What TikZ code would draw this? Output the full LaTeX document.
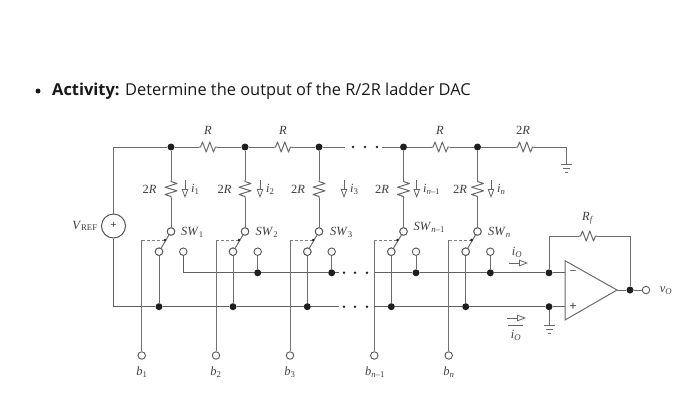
\documentclass[tikz,border=0pt]{standalone}
\usepackage{fontspec}
\setmainfont{Liberation Serif}
\newfontfamily\headfont{Open Sans}
\usetikzlibrary{arrows.meta,calc}
\newcommand{\subbed}[2]{\textit{#1}\textsubscript{\textit{#2}}}
\tikzset{
  wire/.style={draw=black!58,line width=1pt},
  bus/.style={draw=black!62,line width=1.25pt},
  ctl/.style={draw=black!55,line width=1pt},
  dash line/.style={draw=black!50,line width=1pt,dash pattern=on 3pt off 2pt},
  dotn/.style={circle,fill=black!88,minimum size=7pt,inner sep=0pt},
  opn/.style={circle,draw=black!65,fill=white,line width=0.9pt,minimum size=7.5pt,inner sep=0pt},
  small dot/.style={circle,fill=black!85,minimum size=2.8pt,inner sep=0pt},
  lbl/.style={inner sep=0pt,font=\fontsize{12.5}{14}\selectfont,text=black!75},
  cur/.style={draw=black!60,line width=0.8pt,-{Triangle[open,fill=white,length=9pt,width=6.5pt]}},
  hres/.pic={\draw[wire,line join=round] (-9,0)--(-7.5,0)--(-5.5,-5)--(-1.8,5)--(1.8,-5)--(5.5,5)--(7.5,0)--(9,0);},
  vres/.pic={\draw[wire,line join=round] (0,-9)--(0,-7.5)--(6,-5.5)--(-6,-1.8)--(6,1.8)--(-6,5.5)--(0,7.5)--(0,9);},
  gnd/.pic={\draw[wire] (-5.5,0)--(5.5,0) (-3.5,4)--(3.5,4) (-1.5,8)--(1.5,8);}
}
\begin{document}
\begin{tikzpicture}[x=1pt,y=-1pt]
\useasboundingbox (0,0) rectangle (700,407);
\fill[white] (0,0) rectangle (700,407);
% heading
\node[anchor=west,inner sep=0pt,font=\headfont\fontsize{16.4}{18}\selectfont,text=black!90] (head) at (52,91.5) {\textbf{Activity:} Determine the output of the R/2R ladder DAC};
\node[circle,fill=black!90,minimum size=5pt,inner sep=0pt] (bull) at (38,91) {};
% rail junctions
\foreach \n/\x in {t1/171,t2/245,t3/319,t4/403.5,t5/477.5}{\node[dotn] (\n) at (\x,147) {};}
\foreach \n/\x in {s1/171,s2/245,s3/319,s4/403.5,s5/477.5}{\node[opn] (\n) at (\x,231.5) {};}
\foreach \n/\x in {c1/159,c2/233,c3/307.3,c4/391.3,c5/465.7,d1/183.3,d2/257.7,d3/331.7,d4/416,d5/490.3}{\node[opn] (\n) at (\x,251.7) {};}
\foreach \n/\x in {u2/257.7,u3/331.7,u4/416,u5/490.3,uj/549}{\node[dotn] (\n) at (\x,272.8) {};}
\foreach \n/\x in {v1/159,v2/233,v3/307.3,v4/391.3,v5/465.7,vj/549}{\node[dotn] (\n) at (\x,306.7) {};}
\foreach \n/\x in {b1/141.7,b2/216,b3/290,b4/374.3,b5/448.7}{\node[opn] (\n) at (\x,355.5) {};}
\foreach \n/\x in {k1/141.7,k2/216,k3/290,k4/374.3,k5/448.7}{\coordinate (\n) at (\x,240);}
% source
\node[circle,draw=black!65,fill=white,line width=1pt,minimum size=24pt,inner sep=0pt] (vs) at (113.5,226) {};
\node[lbl,font=\bfseries\fontsize{11}{12}\selectfont] (vsp) at (113.5,225) {+};
\coordinate (tl) at (113.5,147);
\coordinate (bl) at (113.5,306.7);
\coordinate (tr) at (345,147);
\coordinate (tr2) at (382,147);
\coordinate (ur) at (339,272.8);
\coordinate (ur2) at (374,272.8);
\coordinate (vr) at (339,306.7);
\coordinate (vr2) at (374,306.7);
\coordinate (ul) at (183.3,272.8);
\coordinate (gt) at (566.7,147);
\coordinate (g1) at (566.7,164);
\coordinate (g2) at (549,325);
% horizontals
\draw[wire] (vs.north)--(tl)--(t1)--(t2)--(t3)--(tr);
\draw[wire] (tr2)--(t4)--(t5)--(gt)--(g1);
\draw[bus] (vs.south)--(bl)--(v1)--(v2)--(v3)--(vr);
\draw[bus] (d1)--(ul)--(u2)--(u3)--(ur);
% opamp
\coordinate (oa) at (565,260.7);
\coordinate (ob) at (565,320);
\coordinate (oc) at (617,290);
\coordinate (im) at (565,272.8);
\coordinate (ip) at (565,306.7);
\draw[bus] (ur2)--(u4)--(u5)--(uj)--(im);
\draw[bus] (vr2)--(v4)--(v5)--(vj)--(ip);
\draw[wire,fill=white,line join=miter] (oa)--(ob)--(oc)--cycle;
\node[lbl,font=\bfseries\fontsize{11}{12}\selectfont] (mn) at (573,272.5) {–};
\node[lbl,font=\bfseries\fontsize{13}{14}\selectfont] (pl) at (573,306.5) {+};
% ladder dots
\foreach \n/\x/\y in {a1/353/147,a2/365/147,a3/377/147,a4/344/272.8,a5/355/272.8,a6/367/272.8,a7/344/306.7,a8/355/306.7,a9/367/306.7}{\node[small dot] (\n) at (\x,\y) {};}
% verticals
\foreach \i in {1,...,5}{
  \draw[wire] (t\i)--(s\i);
  \draw[wire] (c\i)--(v\i);
  \draw[ctl] (k\i)--(b\i);
  \path let \p1=(s\i),\p2=(c\i) in coordinate (m\i) at ($(\p1)!0.5!(\p2)$);
  \draw[wire] (s\i)--(c\i);
  \draw[dash line] (k\i)--(m\i|-k\i);
  \fill[black!85] (m\i|-k\i) circle (1.4pt);
}
\foreach \i in {2,...,5}{\draw[wire] (d\i)--(u\i);}
\foreach \i in {1,...,5}{\node[opn] at (s\i) {};\node[opn] at (c\i) {};}
% resistors
\foreach \x in {208,283,440.5,525}{\fill[white] (\x-9,144) rectangle (\x+9,150); \path (\x,147) pic {hres};}
\foreach \x in {171,245,319,403.5,477.5}{\fill[white] (\x-1.5,180) rectangle (\x+1.5,198); \path (\x,189) pic {vres};}
% feedback
\coordinate (f1) at (549,236);
\coordinate (f2) at (630,236);
\node[dotn] (oj) at (630,290) {};
\node[opn] (vo) at (646,290) {};
\draw[wire] (uj)--(f1)--(f2)--(oj);
\draw[wire] (oc)--(oj)--(vo);
\fill[white] (579,233) rectangle (597,239);
\path (588,236) pic {hres};
\draw[wire] (vj)--(g2);
\path (g1) pic {gnd};
\path (g2) pic {gnd};
% current arrows
\foreach \n/\x in {i1/185,i2/260,i3/344,i4/416.7,i5/491}{
  \coordinate (\n a) at (\x,180); \coordinate (\n b) at (\x,198);
  \draw[cur] (\n a)--(\n b);
}
\coordinate (ioa) at (509,263); \coordinate (iob) at (528,263);
\draw[cur] (ioa)--(iob);
\coordinate (ioc) at (507,318); \coordinate (iod) at (526,318);
\draw[cur] (ioc)--(iod);
\coordinate (bara) at (508,325.5); \coordinate (barb) at (523,325.5);
\draw[draw=black!60,line width=0.8pt] (bara)--(barb);
% labels
\foreach \n/\x/\t in {r1/208/R,r2/283/R,r3/440/R}{\node[lbl] (\n) at (\x,130) {\textit{\t}};}
\node[lbl] (r4) at (523,130) {2\textit{R}};
\foreach \n/\x in {q1/149.5,q2/224.5,q3/298,q4/382,q5/460}{\node[lbl] (\n) at (\x,189) {2\textit{R}};}
\node[lbl,anchor=west] (l1) at (191,189.5) {\subbed{i}{\textup{1}}};
\node[lbl,anchor=west] (l2) at (266,189.5) {\subbed{i}{\textup{2}}};
\node[lbl,anchor=west] (l3) at (350,189.5) {\subbed{i}{\textup{3}}};
\node[lbl,anchor=west] (l4) at (423,189.5) {\subbed{i}{n\textup{–1}}};
\node[lbl,anchor=west] (l5) at (497,189.5) {\subbed{i}{n}};
\node[lbl,anchor=west] (w1) at (181,232.5) {\subbed{SW}{\textup{1}}};
\node[lbl,anchor=west] (w2) at (255.5,232.5) {\subbed{SW}{\textup{2}}};
\node[lbl,anchor=west] (w3) at (330,232.5) {\subbed{SW}{\textup{3}}};
\node[lbl,anchor=west] (w4) at (413.5,227) {\subbed{SW}{n\textup{–1}}};
\node[lbl,anchor=west] (w5) at (488,232.5) {\subbed{SW}{n}};
\node[lbl] (b1l) at (142,372.5) {\subbed{b}{\textup{1}}};
\node[lbl] (b2l) at (216,372.5) {\subbed{b}{\textup{2}}};
\node[lbl] (b3l) at (290,372.5) {\subbed{b}{\textup{3}}};
\node[lbl] (b4l) at (375,372.5) {\subbed{b}{n\textup{–1}}};
\node[lbl] (b5l) at (449,372.5) {\subbed{b}{n}};
\node[lbl] (rf) at (588,218) {\subbed{R}{f}};
\node[lbl] (vref) at (85,226) {\textit{V}\textsubscript{\textup{REF}}};
\node[lbl] (io1) at (517,252) {\subbed{i}{O}};
\node[lbl] (io2) at (516,335) {\subbed{i}{O}};
\node[lbl] (vol) at (666,291) {\subbed{v}{O}};
\end{tikzpicture}
\end{document}
